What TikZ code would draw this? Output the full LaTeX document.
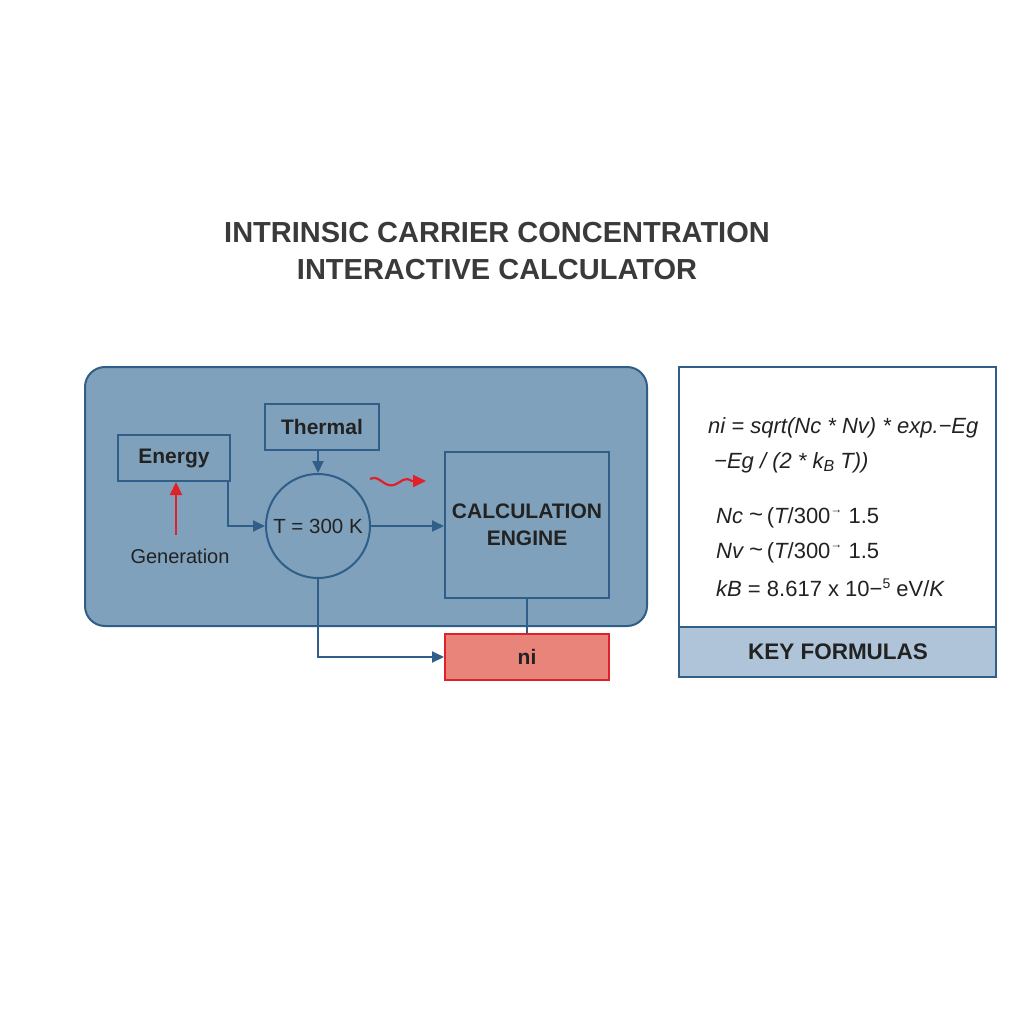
\documentclass[tikz,border=0pt]{standalone}
\usepackage{fontspec}
\setmainfont{Liberation Sans}
\usetikzlibrary{arrows.meta,decorations.pathmorphing}
\definecolor{panelfill}{HTML}{80A1BB}
\definecolor{dblue}{HTML}{2F5F88}
\definecolor{txt}{HTML}{222222}
\definecolor{ttl}{HTML}{3A3A3A}
\definecolor{redc}{HTML}{E0202A}
\definecolor{nifill}{HTML}{E9847B}
\definecolor{hdrfill}{HTML}{AFC4D8}
\tikzset{
  box/.style={draw=dblue,line width=2pt,inner sep=0pt,font=\bfseries\fontsize{21}{24}\selectfont,text=txt},
  conn/.style={draw=dblue,line width=2pt},
  arr/.style={conn,-{Triangle[length=12pt,width=11pt]}},
  redarr/.style={draw=redc,line width=2.2pt,-{Triangle[length=13pt,width=12pt]}},
  formula/.style={anchor=west,inner sep=0pt,font=\fontsize{22}{25}\selectfont,text=txt}
}
\begin{document}
\begin{tikzpicture}[x=1pt,y=-1pt]
\useasboundingbox (0,0) rectangle (1024,1024);
\fill[white] (0,0) rectangle (1024,1024);
% title
\node[font=\bfseries\fontsize{29}{32}\selectfont,text=ttl,align=center] (title1) at (497,233) {INTRINSIC CARRIER CONCENTRATION};
\node[font=\bfseries\fontsize{29}{32}\selectfont,text=ttl,align=center] (title2) at (497,270) {INTERACTIVE CALCULATOR};
% panel
\draw[fill=panelfill,draw=dblue,line width=2pt,rounded corners=20pt] (85,367) rectangle (647,626);
% nodes
\node[box,minimum width=112pt,minimum height=46pt] (energy) at (174,458) {Energy};
\node[box,minimum width=114pt,minimum height=46pt] (thermal) at (322,427) {Thermal};
\node[box,circle,minimum size=104pt,font=\fontsize{20.5}{23}\selectfont] (circ) at (318,526) {T = 300 K};
\node[box,minimum width=164pt,minimum height=146pt] (calc) at (527,525) {};
\node[font=\bfseries\fontsize{21}{27}\selectfont,text=txt,align=center] (calctext) at (527,525) {CALCULATION\\ENGINE};
\node[box,draw=redc,fill=nifill,minimum width=164pt,minimum height=46pt] (ni) at (527,657) {ni};
\node[font=\fontsize{20}{23}\selectfont,text=txt] (gen) at (180,556) {Generation};
% connectors
\draw[arr] ([xshift=-3pt]energy.south east) |- (circ.west);
\draw[arr] (circ.north |- thermal.south) -- (circ.north);
\draw[arr] (circ.east) -- (circ.east -| calc.west);
\draw[arr] (circ.south) |- (ni.west);
\draw[conn] (calc.south) -- (ni.north);
\coordinate (g1) at (176,535);
\draw[redarr] (g1) -- ([xshift=2pt]energy.south);
\coordinate (w1) at (370,479);
\coordinate (w2) at (426,481);
\draw[draw=redc,line width=2.2pt] (w1) .. controls (379,474) and (384,488) .. (394,485) .. controls (402,482) and (404,476) .. (412,481);
\draw[redarr] (411,481) -- (w2);
% formula box
\draw[draw=dblue,line width=2pt,fill=white] (679,367) rectangle (996,677);
\draw[draw=dblue,line width=2pt,fill=hdrfill] (679,627) rectangle (996,677);
\node[font=\bfseries\fontsize{22.5}{25}\selectfont,text=txt] (kf) at (838,652) {KEY FORMULAS};
\node[formula] (f1) at (708,428) {\itshape ni = sqrt(Nc * Nv) * exp.−Eg};
\node[formula] (f2) at (714,463) {\itshape −Eg / (2 * k\raisebox{-3pt}{\fontsize{16}{18}\selectfont B} T))};
\node[formula] (f3) at (716,518) {\itshape Nc \upshape\raisebox{1pt}{\fontsize{24}{26}\selectfont\textasciitilde}\,(\itshape T\upshape/300\raisebox{10pt}{\fontsize{12}{12}\selectfont →} 1.5};
\node[formula] (f4) at (716,553) {\itshape Nv \upshape\raisebox{1pt}{\fontsize{24}{26}\selectfont\textasciitilde}\,(\itshape T\upshape/300\raisebox{10pt}{\fontsize{12}{12}\selectfont →} 1.5};
\node[formula] (f5) at (716,588) {\itshape kB \upshape = 8.617 x 10−\raisebox{8pt}{\fontsize{14}{16}\selectfont 5} eV/\itshape K};
\end{tikzpicture}
\end{document}
